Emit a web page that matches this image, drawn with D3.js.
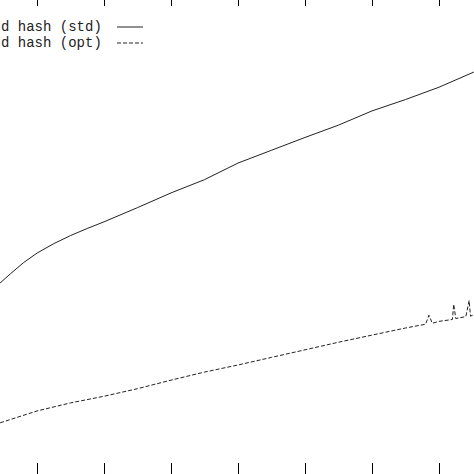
<!DOCTYPE html><html><head><script src="https://d3js.org/d3.v7.min.js"></script>
<style>body{margin:0;background:#fff}</style></head><body><svg width="474" height="474"></svg>
<script>
const xTicks=[0,1,2,3,4,5,6];
const xStd=[-0.55,-0.4,-0.2,0,0.25,0.5,0.75,1,1.5,2,2.5,3,3.5,4,4.5,5,5.5,6,6.52];
const yStd=[40.3,42.2,44.6,46.6,48.6,50.3,51.8,53.2,56.2,59.3,62.1,65.6,68.3,71.0,73.6,76.6,79.0,81.6,84.8];
const xOpt=[-0.55,0,0.5,1,1.5,2,2.5,3,3.5,4,4.5,5,5.5,5.8,5.85,5.9,6,6.2,6.22,6.25,6.4,6.45,6.47,6.52];
const yOpt=[10.8,13.3,15.0,16.4,18.0,19.8,21.5,23.0,24.6,26.2,27.8,29.3,30.8,31.6,33.5,31.8,32.2,32.6,35.8,32.8,33.2,36.6,33.3,33.6];
const svg=d3.select("svg");
const x=d3.scaleLinear().domain([0,6]).range([37,439]);
const y=d3.scaleLinear().domain([0,100]).range([474,0]);
const line=d3.line().x(d=>x(d[0])).y(d=>y(d[1]));
svg.append("path").attr("d",line(xStd.map((v,i)=>[v,yStd[i]]))).attr("fill","none").attr("stroke","#222").attr("stroke-width",1);
svg.append("path").attr("d",line(xOpt.map((v,i)=>[v,yOpt[i]]))).attr("fill","none").attr("stroke","#222").attr("stroke-width",1).attr("stroke-dasharray","4,2");
svg.append("g").attr("transform","translate(0,463)").call(d3.axisBottom(x).tickValues(xTicks).tickSize(11).tickFormat("")).call(g=>g.select(".domain").remove());
svg.append("g").call(d3.axisBottom(x).tickValues(xTicks).tickSize(6).tickFormat("")).call(g=>g.select(".domain").remove());
const leg=[["d hash (std)",null],["d hash (opt)","4,2"]];
leg.forEach((l,i)=>{
 const yy=27+i*16;
 svg.append("text").attr("x",1).attr("y",yy+4).attr("font-family","Liberation Mono").attr("font-size",14).attr("fill","#222").text(l[0]);
 svg.append("line").attr("x1",117).attr("x2",143).attr("y1",yy).attr("y2",yy).attr("stroke","#222").attr("stroke-dasharray",l[1]);
});
</script></body></html>
